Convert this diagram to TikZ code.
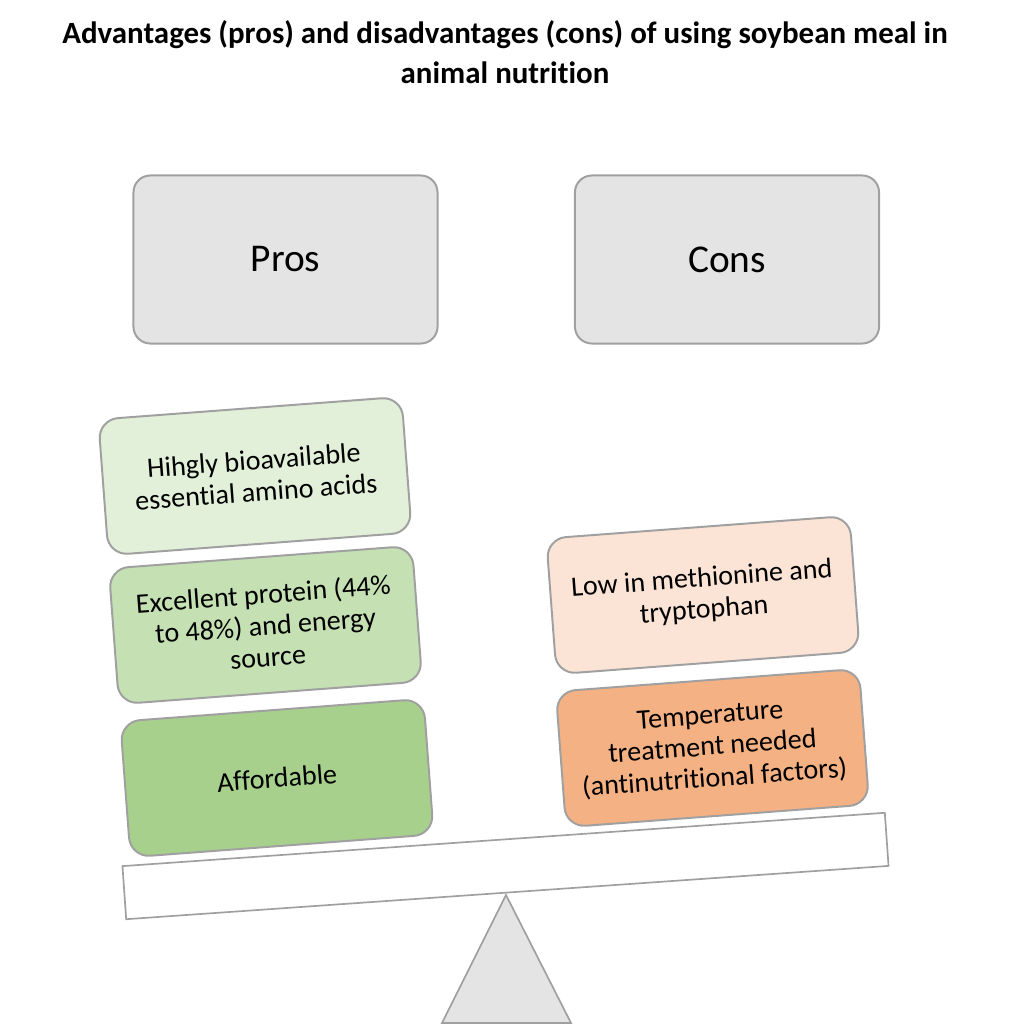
\documentclass[tikz,border=0pt]{standalone}
\usepackage{fontspec}
\setmainfont{Carlito}[Ligatures=NoCommon]
\usetikzlibrary{positioning, calc}
\definecolor{boxline}{RGB}{160,160,160}
\definecolor{headfill}{RGB}{228,228,228}
\definecolor{proslight}{RGB}{226,239,217}
\definecolor{prosmid}{RGB}{197,224,179}
\definecolor{prosdark}{RGB}{168,208,141}
\definecolor{conslight}{RGB}{251,228,213}
\definecolor{consdark}{RGB}{244,177,131}

\begin{document}
\begin{tikzpicture}[x=0.025cm, y=-0.025cm,
    head/.style={draw=boxline, line width=1.4pt, fill=headfill, rounded corners=12pt,
      minimum width=7.6cm, minimum height=4.2cm, font=\fontsize{28}{33}\selectfont},
    item/.style={draw=boxline, line width=1.4pt, rounded corners=14pt, rotate=4.3,
      minimum width=7.6cm, minimum height=3.4cm, align=center, inner sep=2pt,
      font=\fontsize{20}{22.5}\selectfont},
    beam/.style={draw=boxline, line width=1.2pt, fill=white, rotate=4,
      minimum width=19.1cm, minimum height=1.33cm, inner sep=0pt}
]
\useasboundingbox (0,0) rectangle (1012,1024);

% ============ TITLE ============
\node[font=\fontsize{22}{28.5}\selectfont\bfseries, align=center] (title) at (505,52)
  {Advantages (pros) and disadvantages (cons) of using soybean meal in\\animal nutrition};

% ============ HEADERS ============
\node[head] (pros) at (285.5,259.5) {Pros};
\node[head] (cons) at (727,259.5) {Cons};

% ============ SEESAW ============
\node[beam] (plank) at (505.5,866) {};
\coordinate (apex) at (506,895);
\coordinate (footL) at (442,1023);
\coordinate (footR) at (571,1023);
\draw[draw=boxline, line width=1.2pt, fill=headfill] (apex) -- (footR) -- (footL) -- cycle;

% ============ PROS STACK ============
\node[item, fill=proslight] (amino) at (255,476) {Hihgly bioavailable\\essential amino acids};
\node[item, fill=prosmid] (protein) at (265.5,625) {Excellent protein (44\%\\to 48\%) and energy\\source};
\node[item, fill=prosdark] (afford) at (277,778) {Affordable};

% ============ CONS STACK ============
\node[item, fill=conslight] (lowin) at (703,595) {Low in methionine and\\tryptophan};
\node[item, fill=consdark] (heat) at (712.5,748) {Temperature\\treatment needed\\(antinutritional factors)};

\end{tikzpicture}
\end{document}
